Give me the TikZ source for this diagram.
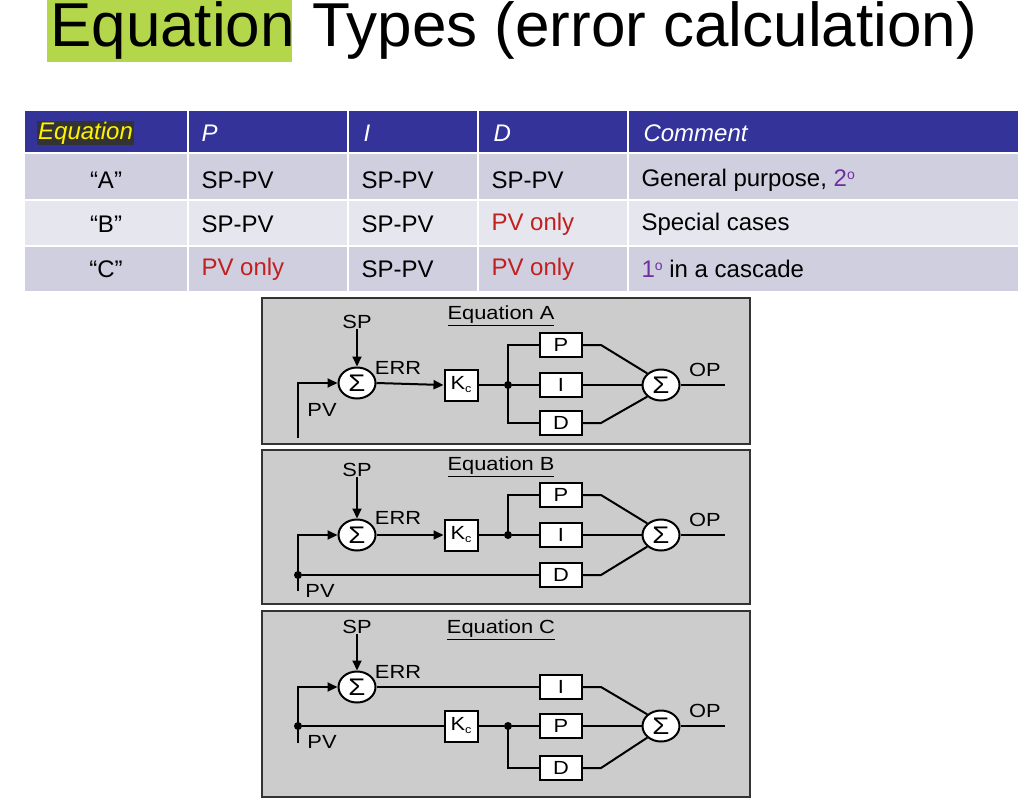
\documentclass[tikz,border=0pt]{standalone}
\usepackage{fontspec}
\setmainfont{Liberation Sans}
\newfontfamily\diag[FakeStretch=1.15]{Liberation Sans}
\usetikzlibrary{arrows.meta,shapes.geometric}
\definecolor{hdr}{HTML}{333399}
\definecolor{rowa}{HTML}{CFCFE0}
\definecolor{rowb}{HTML}{E6E6EE}
\definecolor{red1}{HTML}{C0201F}
\definecolor{purp}{HTML}{7030A0}
\definecolor{ttlgreen}{HTML}{B4D64A}
\definecolor{panel}{HTML}{CCCCCC}
\newcommand{\supo}{\raisebox{7pt}{\fontsize{14}{14}\selectfont o}}
\newcommand{\kcsub}{K\raisebox{-3pt}{\fontsize{11}{11}\selectfont c}}
\tikzset{
 cell/.style={font=\fontsize{24}{26}\selectfont,anchor=west},
 hcell/.style={font=\fontsize{24}{26}\selectfont\itshape,text=white,anchor=west},
 pnl/.style={draw=black!80,line width=2pt,fill=panel},
 blk/.style={draw,fill=white,line width=2pt,minimum width=42pt,minimum height=24pt,inner sep=0pt,font=\diag\fontsize{19}{20}\selectfont},
 kbox/.style={draw,fill=white,line width=2pt,minimum width=33pt,minimum height=31pt,inner sep=0pt,font=\diag\fontsize{19}{20}\selectfont},
 sumc/.style={draw,fill=white,ellipse,line width=2pt,minimum width=37pt,minimum height=31pt,inner sep=0pt,font=\diag\fontsize{24}{24}\selectfont},
 lbl/.style={font=\diag\fontsize{19}{20}\selectfont,inner sep=0pt},
 wire/.style={line width=2pt},
 arr/.style={line width=2pt,-{Triangle[length=10pt,width=9pt]}},
 dot/.style={circle,fill=black,inner sep=0pt,minimum size=8pt}
}
\begin{document}
\begin{tikzpicture}[x=1pt,y=-1pt]
\useasboundingbox (0,0) rectangle (1024,800);
% title
\fill[ttlgreen] (47,0) rectangle (292,62);
\node[anchor=base west,inner sep=0pt,font=\fontsize{62}{64}\selectfont] (title) at (50,47) {Equation Types (error calculation)};
% table
\fill[hdr] (25,111) rectangle (1018,153);
\fill[rowa] (25,153) rectangle (1018,200);
\fill[rowb] (25,200) rectangle (1018,246);
\fill[rowa] (25,246) rectangle (1018,291);
\foreach \x in {188,348,478,628} \draw[white,line width=2pt] (\x,111) -- (\x,291);
\foreach \y in {153,200,246} \draw[white,line width=2pt] (25,\y) -- (1018,\y);
\node[hcell,fill=black!80,text=yellow,inner sep=1pt] (h1) at (37,133) {Equation};
\node[hcell] (h2) at (198,133) {P};
\node[hcell] (h3) at (360,133) {I};
\node[hcell] (h4) at (490,133) {D};
\node[hcell] (h5) at (640,133) {Comment};
\node[cell,anchor=center] (a1) at (106,180) {“A”};
\node[cell] (a2) at (198,180) {SP-PV};
\node[cell] (a3) at (358,180) {SP-PV};
\node[cell] (a4) at (488,180) {SP-PV};
\node[cell] (a5) at (638,180) {General purpose, \textcolor{purp}{2\supo}};
\node[cell,anchor=center] (b1) at (106,224) {“B”};
\node[cell] (b2) at (198,224) {SP-PV};
\node[cell] (b3) at (358,224) {SP-PV};
\node[cell,text=red1] (b4) at (488,224) {PV only};
\node[cell] (b5) at (638,224) {Special cases};
\node[cell,anchor=center] (c1) at (106,269) {“C”};
\node[cell,text=red1] (c2) at (198,269) {PV only};
\node[cell] (c3) at (358,269) {SP-PV};
\node[cell,text=red1] (c4) at (488,269) {PV only};
\node[cell] (c5) at (638,269) {\textcolor{purp}{1\supo}\ in a cascade};
% panels
\draw[pnl] (262,298) rectangle (750,444);
\draw[pnl] (262,450) rectangle (750,604);
\draw[pnl] (262,611) rectangle (750,797);

% ===== Panel A
\node[lbl] (eA) at (501,316) {\underline{Equation A}};
\node[lbl] (spA) at (357,322) {SP};
\node[sumc] (sA) at (357,383) {Σ};
\node[lbl] (errA) at (398,368) {ERR};
\node[lbl] (pvA) at (322,410) {PV};
\node[kbox] (kA) at (461,385) {\kcsub};
\node[dot] (jA) at (508,385) {};
\node[blk] (pA) at (561,345) {P};
\node[blk] (iA) at (561,385) {I};
\node[blk] (dA) at (561,423) {D};
\node[sumc] (oA) at (661,385) {Σ};
\node[lbl] (opA) at (705,370) {OP};
\coordinate (pvsA) at (298,438);
\coordinate (outA) at (725,385);
\draw[arr] (spA.south) -- (sA.north);
\draw[arr] (pvsA) |- (sA.west);
\draw[arr] (sA.east) -- (kA.west);
\draw[wire] (kA.east) -- (jA);
\draw[wire] (jA) -- (iA.west);
\draw[wire] (jA.center) |- (pA.west);
\draw[wire] (jA.center) |- (dA.west);
\draw[wire] (pA.east) -- ++(18,0) -- (oA.north west);
\draw[wire] (iA.east) -- (oA.west);
\draw[wire] (dA.east) -- ++(18,0) -- (oA.south west);
\draw[wire] (oA.east) -- (outA);

% ===== Panel B
\node[lbl] (eB) at (501,467) {\underline{Equation B}};
\node[lbl] (spB) at (357,470) {SP};
\node[sumc] (sB) at (357,535) {Σ};
\node[lbl] (errB) at (398,518) {ERR};
\node[lbl] (pvB) at (320,591) {PV};
\node[kbox] (kB) at (461,535) {\kcsub};
\node[dot] (jB) at (508,535) {};
\node[blk] (pB) at (561,495) {P};
\node[blk] (iB) at (561,535) {I};
\node[blk] (dB) at (561,575) {D};
\node[dot] (jpB) at (298,575) {};
\node[sumc] (oB) at (661,535) {Σ};
\node[lbl] (opB) at (705,520) {OP};
\coordinate (pvsB) at (298,591);
\coordinate (outB) at (725,535);
\draw[arr] (spB.south) -- (sB.north);
\draw[arr] (pvsB) |- (sB.west);
\draw[arr] (sB.east) -- (kB.west);
\draw[wire] (kB.east) -- (jB);
\draw[wire] (jB) -- (iB.west);
\draw[wire] (jB.center) |- (pB.west);
\draw[wire] (jpB) -- (dB.west);
\draw[wire] (pB.east) -- ++(18,0) -- (oB.north west);
\draw[wire] (iB.east) -- (oB.west);
\draw[wire] (dB.east) -- ++(18,0) -- (oB.south west);
\draw[wire] (oB.east) -- (outB);

% ===== Panel C
\node[lbl] (eC) at (501,630) {\underline{Equation C}};
\node[lbl] (spC) at (357,627) {SP};
\node[sumc] (sC) at (357,687) {Σ};
\node[lbl] (errC) at (398,672) {ERR};
\node[lbl] (pvC) at (322,742) {PV};
\node[kbox] (kC) at (461,726) {\kcsub};
\node[dot] (jC) at (508,726) {};
\node[blk] (iC) at (561,687) {I};
\node[blk] (pC) at (561,726) {P};
\node[blk] (dC) at (561,768) {D};
\node[dot] (jpC) at (298,726) {};
\node[sumc] (oC) at (661,726) {Σ};
\node[lbl] (opC) at (705,711) {OP};
\coordinate (pvsC) at (298,743);
\coordinate (outC) at (725,726);
\draw[arr] (spC.south) -- (sC.north);
\draw[arr] (pvsC) |- (sC.west);
\draw[wire] (sC.east) -- (iC.west);
\draw[wire] (jpC) -- (kC.west);
\draw[wire] (kC.east) -- (jC);
\draw[wire] (jC) -- (pC.west);
\draw[wire] (jC.center) |- (dC.west);
\draw[wire] (iC.east) -- ++(18,0) -- (oC.north west);
\draw[wire] (pC.east) -- (oC.west);
\draw[wire] (dC.east) -- ++(18,0) -- (oC.south west);
\draw[wire] (oC.east) -- (outC);
\end{tikzpicture}
\end{document}
